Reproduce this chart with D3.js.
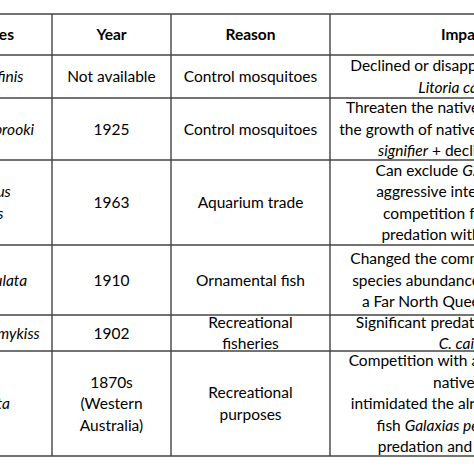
<!DOCTYPE html>
<html><head><meta charset="utf-8">
<script src="https://cdn.jsdelivr.net/npm/d3@7"></script>
<style>body{margin:0;background:#fff}svg{display:block}text{font-family:Lato,"Open Sans",sans-serif;font-size:15.5px;fill:#000}</style>
</head><body><div id="c"></div>
<script>
const headers=["Species","Year","Reason","Impacts"];
const species=[["Gambusia affinis"],["Gambusia holbrooki"],["Xiphophorus","maculatus"],["Poecilia reticulata"],["Oncorhynchus mykiss"],["Salmo trutta"]];
const years=[["Not available"],["1925"],["1963"],["1910"],["1902"],["1870s","(Western","Australia)"]];
const reasons=[["Control mosquitoes"],["Control mosquitoes"],["Aquarium trade"],["Ornamental fish"],["Recreational","fisheries"],["Recreational","purposes"]];
const impacts=[
 [[["Declined or disappearance of frogs",0]],[["Litoria caerulea",1]]],
 [[["Threaten the native fish by reducing",0]],[["the growth of native fish Pseudomugil",0]],[["signifier",1],[" + declined of frogs",0]]],
 [[["Can exclude ",0],["G. holbrooki",1],[" by",0]],[["aggressive interactions and",0]],[["competition for food and",0]],[["predation with native fish",0]]],
 [[["Changed the community structure,",0]],[["species abundance composition in",0]],[["a Far North Queensland stream",0]]],
 [[["Significant predator of native fish",0]],[["C. cairnsi",1]]],
 [[["Competition with and predation on",0]],[["native fish",0]],[["intimidated the already threatened",0]],[["fish ",0],["Galaxias pedderensis",1],[" by",0]],[["predation and competition",0]]]
];
const rowEdges=[14,55,98,160,245,315,351,456];
const colEdges=[-130,52,171,330,640];
const W=474,H=474,LH=21.5;
const svg=d3.select("#c").append("svg").attr("width",W).attr("height",H);
const g=svg.append("g");
rowEdges.forEach(y=>g.append("line").attr("x1",0).attr("x2",W).attr("y1",y).attr("y2",y).attr("stroke","#444").attr("stroke-width",1.4));
colEdges.slice(1,4).forEach(x=>g.append("line").attr("x1",x).attr("x2",x).attr("y1",rowEdges[0]).attr("y2",rowEdges[rowEdges.length-1]).attr("stroke","#444").attr("stroke-width",1.4));
const cx=i=>(colEdges[i]+colEdges[i+1])/2;
const cxs=[-30,cx(1),cx(2),468];
function cell(lines,col,r0,r1,bold){
  const mid=(r0+r1)/2, n=lines.length;
  lines.forEach((ln,k)=>{
    const y=mid+(k-(n-1)/2)*LH+5.5;
    const x=(bold&&col===0)?-12:cxs[col];
    const t=g.append("text").attr("x",x).attr("y",y).attr("text-anchor","middle");
    if(bold)t.attr("font-weight","bold");
    ln.forEach(p=>t.append("tspan").text(p[0]).attr("font-style",p[1]?"italic":"normal"));
  });
}
headers.forEach((h,i)=>cell([[[h,0]]],i,rowEdges[0],rowEdges[1],true));
for(let r=0;r<6;r++){
  const a=rowEdges[r+1],b=rowEdges[r+2];
  cell(species[r].map(s=>[[s,1]]),0,a,b);
  cell(years[r].map(s=>[[s,0]]),1,a,b);
  cell(reasons[r].map(s=>[[s,0]]),2,a,b);
  cell(impacts[r],3,a,b);
}
</script></body></html>
